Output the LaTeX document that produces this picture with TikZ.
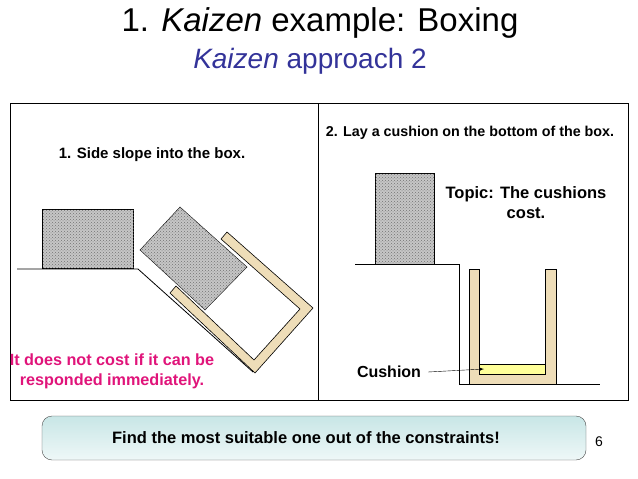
\documentclass[tikz,border=0pt]{standalone}
\usepackage{fontspec}
\setmainfont{Liberation Sans}
\usetikzlibrary{patterns}
\definecolor{wood}{HTML}{EEDDB8}
\definecolor{titleblue}{HTML}{333399}
\definecolor{pinkred}{HTML}{E0147A}
\definecolor{cush}{HTML}{FFFF99}
\definecolor{barcol}{HTML}{C8E6E6}
\tikzset{
  stone/.style={draw=black, fill=gray!45, postaction={pattern=crosshatch dots, pattern color=gray!90!black}},
  woodwall/.style={draw=black, fill=wood, line width=0.6pt},
  lbl/.style={font=\bfseries\fontsize{15}{18}\selectfont, inner sep=1pt},
  ground/.style={draw=black, line width=0.8pt}
}
\begin{document}
\begin{tikzpicture}[x=1pt,y=-1pt]
\useasboundingbox (0,0) rectangle (638,479);
\node (t1) at (320,23) {\fontsize{33}{38}\selectfont 1. \textit{Kaizen} example: Boxing};
\node[text=titleblue] (t2) at (310,61) {\fontsize{28}{32}\selectfont \textit{Kaizen} approach 2};
\draw[line width=1pt] (10,103) rectangle (628,400);
\draw[line width=1pt] (318,103) -- (318,400);
\node[lbl] (l1) at (152,155) {1. Side slope into the box.};
\node[lbl, font=\bfseries\fontsize{14.3}{17}\selectfont] (l2) at (470,133) {2. Lay a cushion on the bottom of the box.};
% left side
\draw[ground] (17,269) -- (138,269) -- (253,372);
\node[stone, minimum width=91, minimum height=59, inner sep=0] (s1) at (88,238.5) {};
\draw[woodwall, even odd rule] (170,293) -- (255,373) -- (313,308) -- (227,232) -- (221,239) -- (300,309) -- (254,360) -- (176,286) -- cycle;
\draw[stone] (180,207) -- (247,267) -- (205,310) -- (140,250) -- cycle;
\node[text=pinkred, font=\bfseries\fontsize{16.2}{20}\selectfont, align=center] (pk) at (112,371) {It does not cost if it can be\\responded immediately.};
% right side
\node[stone, minimum width=59, minimum height=91, inner sep=0] (s2) at (404.5,218.5) {};
\draw[ground] (355,264) -- (459,264) -- (459,384) -- (600,384);
\draw[woodwall] (469,269) -- (469,384) -- (556,384) -- (556,269) -- (545,269) -- (545,374) -- (479,374) -- (479,269) -- cycle;
\draw[fill=cush] (479,364) rectangle (545,374);
\coordinate (ct) at (484,369);
\node[lbl, font=\bfseries\fontsize{16}{19}\selectfont] (cl) at (389,372) {Cushion};
\draw[-latex] (cl.east) ++(6,0) -- (ct);
\node[font=\bfseries\fontsize{16.5}{20}\selectfont, align=center] (tp) at (526,203) {Topic: The cushions\\cost.};
% bottom bar
\draw[rounded corners=10, top color=barcol, bottom color=barcol!30, draw=black!70] (42,416) rectangle (586,460);
\node[lbl, font=\bfseries\fontsize{16.5}{19}\selectfont] (ft) at (306,438) {Find the most suitable one out of the constraints!};
\node[font=\fontsize{14}{16}\selectfont] (pg) at (599,442) {6};
\end{tikzpicture}
\end{document}
